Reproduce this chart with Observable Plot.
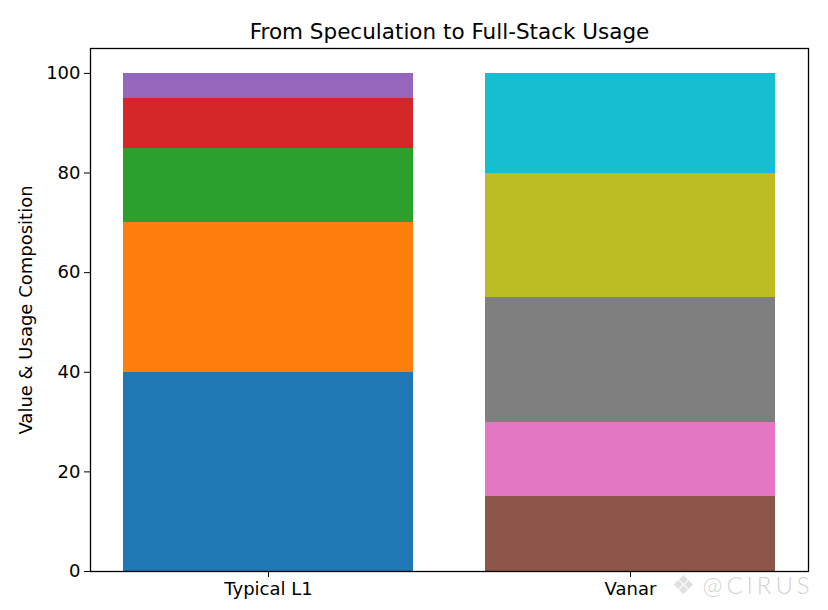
<!DOCTYPE html>
<html>
<head>
<meta charset="utf-8">
<script src="https://cdn.jsdelivr.net/npm/d3@7"></script>
<script src="https://cdn.jsdelivr.net/npm/@observablehq/plot@0.6"></script>
<style>
  html, body { margin: 0; padding: 0; background: white; }
  #chart svg { display: block; }
  .wm text { letter-spacing: 4px; }
</style>
</head>
<body>
<div id="chart"></div>
<script>
const categories = ["Typical L1", "Vanar"];
const typicalSegments = ["L1 seg 1", "L1 seg 2", "L1 seg 3", "L1 seg 4", "L1 seg 5"];
const typicalValues = [40, 30, 15, 10, 5];
const typicalColors = ["#1f77b4", "#ff7f0e", "#2ca02c", "#d62728", "#9467bd"];
const vanarSegments = ["Vanar seg 1", "Vanar seg 2", "Vanar seg 3", "Vanar seg 4", "Vanar seg 5"];
const vanarValues = [15, 15, 25, 25, 20];
const vanarColors = ["#8c564b", "#e377c2", "#7f7f7f", "#bcbd22", "#17becf"];
const yTicks = [0, 20, 40, 60, 80, 100];
const title = "From Speculation to Full-Stack Usage";
const yLabel = "Value & Usage Composition";
const watermark = "@CIRUS";

const rows = [
  ...typicalSegments.map((s, i) => ({cat: categories[0], seg: s, value: typicalValues[i]})),
  ...vanarSegments.map((s, i) => ({cat: categories[1], seg: s, value: vanarValues[i]}))
];

const chart = Plot.plot({
  width: 828,
  height: 610,
  marginLeft: 90,
  marginRight: 20,
  marginTop: 48,
  marginBottom: 39,
  style: {fontFamily: "DejaVu Sans", fontSize: "18px", background: "white", color: "black"},
  x: {domain: categories, paddingInner: 0.2, paddingOuter: 0.09, label: null},
  y: {domain: [0, 105]},
  color: {domain: [...typicalSegments, ...vanarSegments], range: [...typicalColors, ...vanarColors]},
  marks: [
    Plot.barY(rows, {x: "cat", y: "value", fill: "seg", inset: 0, shapeRendering: "crispEdges"}),
    Plot.frame({stroke: "black", strokeWidth: 1.3}),
    Plot.axisY({ticks: yTicks, tickSize: 6, tickPadding: 4, tickFormat: d => String(d),
      label: yLabel, labelAnchor: "center", labelArrow: "none", labelOffset: 71, fontSize: 18}),
    Plot.axisX({tickSize: 6, tickPadding: 5, label: null, fontSize: 18}),
    Plot.text([title], {text: d => d, frameAnchor: "top", lineAnchor: "bottom", dy: -10, fontSize: 21.5}),
    Plot.text([watermark], {text: d => d, frameAnchor: "bottom-right", lineAnchor: "middle", textAnchor: "start",
      dx: -106, dy: 15, fontSize: 24, fill: "#d2d2d2", fontFamily: "Lato", fontWeight: 300, className: "wm"}),
    Plot.text(["\u2756"], {text: d => d, frameAnchor: "bottom-right", lineAnchor: "middle", textAnchor: "middle",
      dx: -125, dy: 14, fontSize: 26, fill: "#e0e0e0"})
  ]
});
document.getElementById("chart").append(chart);
</script>
</body>
</html>
